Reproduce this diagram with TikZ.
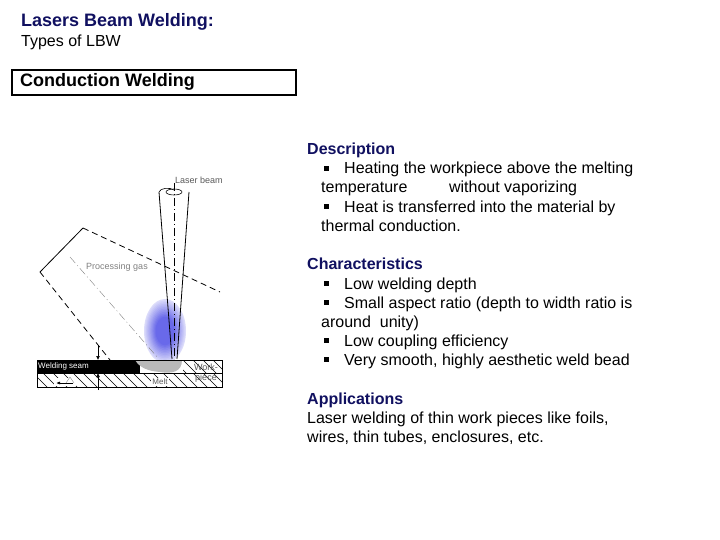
\documentclass[tikz,border=0pt]{standalone}
\usepackage{fontspec}
\setmainfont{Liberation Sans}
\usetikzlibrary{arrows.meta,patterns}
\definecolor{navy}{RGB}{16,16,96}
\definecolor{blobc}{RGB}{80,80,230}
\tikzset{
  body/.style={anchor=base west,inner sep=0pt,font=\fontsize{16}{18}\selectfont},
  head/.style={anchor=base west,inner sep=0pt,font=\fontsize{16}{18}\selectfont\bfseries,text=navy},
  small/.style={inner sep=0pt,font=\fontsize{8}{9}\selectfont,text=gray},
  hatch/.style={line width=0.5pt},
}
\newcommand{\bul}{\rule[0.2em]{0.3em}{0.3em}}
\begin{document}
\begin{tikzpicture}[x=1pt,y=-1pt]
\useasboundingbox (0,0) rectangle (720,540);
% titles
\node[anchor=base west,inner sep=0pt,font=\fontsize{18}{20}\selectfont\bfseries,text=navy] (t1) at (21,27) {Lasers Beam Welding:};
\node[body] (t2) at (21,47) {Types of LBW};
\node[draw,line width=1.6pt,minimum width=284pt,minimum height=25pt,anchor=north west,inner sep=0pt] (box) at (11,69) {};
\node[anchor=base west,inner sep=0pt,font=\fontsize{18}{20}\selectfont\bfseries] (t3) at (20,87) {Conduction Welding};
% right text
\node[head] (h1) at (307,155) {Description};
\node[body] (d1) at (324,174) {\bul\hspace{0.95em}Heating the workpiece above the melting};
\node[body] (d2) at (321,193) {temperature\hspace{2.6em}without vaporizing};
\node[body] (d3) at (324,212) {\bul\hspace{0.95em}Heat is transferred into the material by};
\node[body] (d4) at (321,231) {thermal conduction.};
\node[head] (h2) at (307,269) {Characteristics};
\node[body] (c1) at (324,289) {\bul\hspace{0.95em}Low welding depth};
\node[body] (c2) at (324,308) {\bul\hspace{0.95em}Small aspect ratio (depth to width ratio is};
\node[body] (c3) at (321,327) {around\ \ unity)};
\node[body] (c4) at (324,346) {\bul\hspace{0.95em}Low coupling efficiency};
\node[body] (c5) at (324,365) {\bul\hspace{0.95em}Very smooth, highly aesthetic weld bead};
\node[head] (h3) at (307,404) {Applications};
\node[body] (a1) at (307,423) {Laser welding of thin work pieces like foils,};
\node[body] (a2) at (307,442) {wires, thin tubes, enclosures, etc.};
% ---- diagram ----
% blob
\foreach \k in {0,...,11} {
  \pgfmathsetmacro{\sc}{1-\k/20}
  \pgfmathsetmacro{\mx}{20+6*\k}
  \fill[blobc!\mx!white] (165,331) ellipse [x radius=21*\sc,y radius=32*\sc];
}
% plate
\fill[black] (37,360) rectangle (140,373);
\fill[gray!55] (135,360) -- (182,360) .. controls (182,372) and (172,374) .. (160,372) .. controls (148,371) and (140,368) .. (135,360) -- cycle;
\begin{scope}
  \clip (37,373) rectangle (222,387);
  \foreach \i in {0,10,...,200} \draw[hatch] (30+\i,370) -- (50+\i,390);
\end{scope}
\begin{scope}
  \clip (183,360) rectangle (222,373);
  \foreach \i in {0,10,...,60} \draw[hatch] (170+\i,357) -- (190+\i,377);
\end{scope}
\draw[line width=0.8pt] (37,360) rectangle (222,387);
\draw[line width=0.6pt] (37,373) -- (222,373);
\node[inner sep=0pt,font=\fontsize{8}{9}\selectfont,text=white,anchor=west] (ws) at (38,366) {Welding seam};
\node[small,align=center,text=gray!70!black,font=\fontsize{9}{10}\selectfont] (wp) at (206,373) {Work-\\piece};
\node[fill=white,small,text=gray!70!black,inner sep=1pt] (melt) at (160,382) {Melt};
% gas nozzle
\draw[line width=0.8pt] (83,228) -- (40,272);
\draw[line width=0.8pt,dash pattern=on 6pt off 4pt] (83,228) -- (220,292);
\draw[line width=0.8pt,dash pattern=on 6pt off 4pt] (40,272) -- (110,360);
\draw[line width=0.4pt,gray,dash pattern=on 8pt off 3pt on 1pt off 3pt] (70,257) -- (158,358);
\node[small,font=\fontsize{9}{10}\selectfont] (pg) at (117,267) {Processing gas};
% beam
\draw[line width=0.8pt] (159,192) -- (172,359);
\draw[line width=0.8pt] (189,192) -- (177,359);
\draw[line width=0.6pt] (174,192) ellipse [x radius=8,y radius=3];
\draw[line width=0.6pt] (159,192) .. controls (160,188) and (170,187) .. (174,190);
\draw[line width=0.5pt,dash pattern=on 8pt off 3pt on 1pt off 3pt] (174,183) -- (174,359);
\node[small,anchor=west,text=gray!70!black,font=\fontsize{9}{10}\selectfont] (lb) at (175,180) {Laser beam};
% arrows
\coordinate (a1s) at (98,346); \coordinate (a1e) at (98,360);
\coordinate (a2s) at (98,390); \coordinate (a2e) at (98,373);
\draw[-{Latex[length=4pt,width=4pt]},line width=0.7pt] (a1s) -- (a1e);
\draw[-{Latex[length=4pt,width=4pt]},line width=0.7pt] (a2s) -- (a2e);
\draw[line width=0.4pt] (98,360) -- (98,373);
\coordinate (l1) at (73,383); \coordinate (l2) at (56,383);
\fill[white] (54,378) rectangle (76,386);
\draw[-{Latex[length=4pt,width=3pt]},line width=0.7pt] (l1) -- (l2);
\draw[line width=0.4pt,gray] (66,383) -- (70,377) -- (74,383);
\end{tikzpicture}
\end{document}
